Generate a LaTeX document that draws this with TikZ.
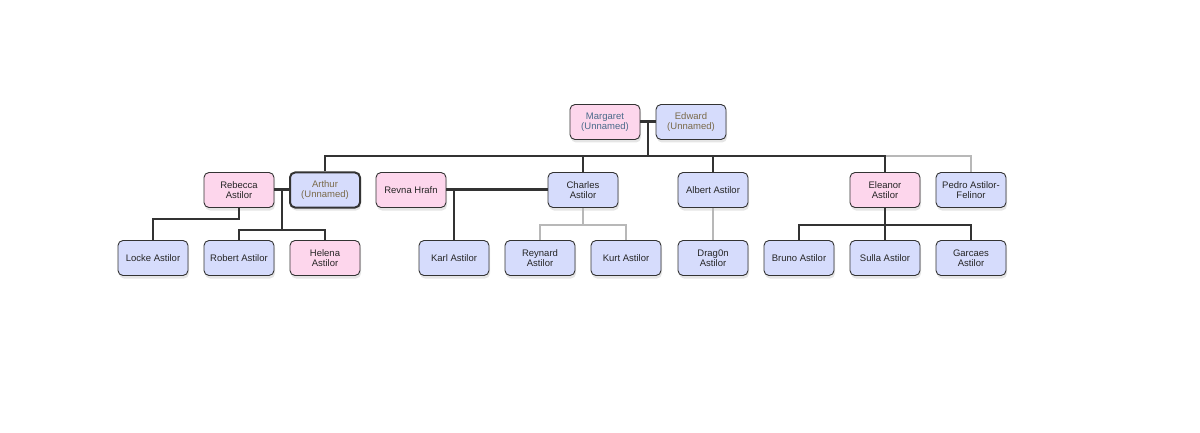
\documentclass[tikz,border=0pt]{standalone}
\usepackage{fontspec}
\setmainfont{Liberation Sans}
\usetikzlibrary{shadows}
\definecolor{pk}{HTML}{FDD6EC}
\definecolor{bl}{HTML}{D6DCFC}
\definecolor{ln}{HTML}{333333}
\definecolor{gl}{HTML}{B8B8B8}
\definecolor{mt}{HTML}{4A6A8A}
\definecolor{ut}{HTML}{7A6A4A}
\begin{document}
\begin{tikzpicture}[x=1pt,y=-1pt,
 p/.style={draw=ln,line width=0.9pt,rounded corners=5pt,minimum width=70pt,minimum height=35pt,inner sep=1pt,align=center,font=\fontsize{9.5}{10.5}\selectfont,text=black!85,drop shadow={shadow xshift=1pt,shadow yshift=-3pt,opacity=0.2}},
 f/.style={p,fill=pk}, m/.style={p,fill=bl},
 dl/.style={draw=ln,line width=1.4pt},
 gr/.style={draw=gl,line width=1.4pt},
 cp/.style={draw=ln,line width=3pt}]
\useasboundingbox[fill=white] (0,0) rectangle (1200,433);
\node[f,text=mt] (mar) at (605,122) {Margaret\\(Unnamed)};
\node[m,text=ut] (edw) at (691,122) {Edward\\(Unnamed)};
\node[f] (reb) at (239,190) {Rebecca\\Astilor};
\node[m,line width=2pt,text=ut] (art) at (325,190) {Arthur\\(Unnamed)};
\node[f] (rev) at (411,190) {Revna Hrafn};
\node[m] (cha) at (583,190) {Charles\\Astilor};
\node[m] (alb) at (713,190) {Albert Astilor};
\node[f] (ele) at (885,190) {Eleanor\\Astilor};
\node[m] (ped) at (971,190) {Pedro Astilor-\\Felinor};
\node[m] (loc) at (153,258) {Locke Astilor};
\node[m] (rob) at (239,258) {Robert Astilor};
\node[f] (hel) at (325,258) {Helena\\Astilor};
\node[m] (kar) at (454,258) {Karl Astilor};
\node[m] (rey) at (540,258) {Reynard\\Astilor};
\node[m] (kur) at (626,258) {Kurt Astilor};
\node[m] (dra) at (713,258) {Drag0n\\Astilor};
\node[m] (bru) at (799,258) {Bruno Astilor};
\node[m] (sul) at (885,258) {Sulla Astilor};
\node[m] (gar) at (971,258) {Garcaes\\Astilor};
% couples
\draw[cp] (mar.east) -- (edw.west);
\draw[cp] (reb.east) -- (art.west);
\draw[cp] (rev.east) -- (cha.west);
% Margaret+Edward children
\coordinate (c1) at (648,122);
\draw[dl] (c1) -- (648,156);
\draw[gr] (885,156) -- (971,156) -- (ped.north);
\draw[dl] (art.north) -- (325,156) -- (885,156) -- (ele.north);
\draw[dl] (583,156) -- (cha.north);
\draw[dl] (713,156) -- (alb.north);
% Rebecca
\draw[dl] (reb.south) -- (239,219) -- (153,219) -- (loc.north);
\draw[dl] (282,190) -- (282,230) -- (239,230) -- (rob.north);
\draw[dl] (282,230) -- (325,230) -- (hel.north);
% Revna
\draw[dl] (454,190) -- (kar.north);
% Charles
\draw[gr] (cha.south) -- (583,225) -- (540,225) -- (rey.north);
\draw[gr] (583,225) -- (626,225) -- (kur.north);
\draw[gr] (alb.south) -- (dra.north);
% Eleanor
\draw[dl] (ele.south) -- (885,225) -- (799,225) -- (bru.north);
\draw[dl] (885,225) -- (sul.north);
\draw[dl] (885,225) -- (971,225) -- (gar.north);
\end{tikzpicture}
\end{document}
